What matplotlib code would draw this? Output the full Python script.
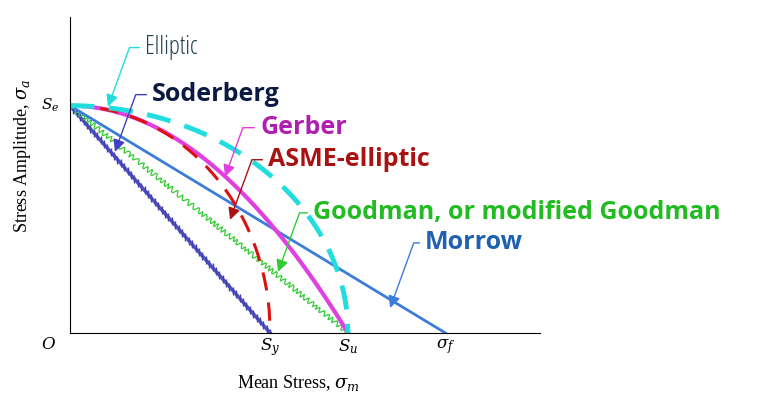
import numpy as np
import matplotlib
matplotlib.use("Agg")
import matplotlib.pyplot as plt

# key strengths (normalized, Su = 1)
Se = 1.0
Sy = 0.72
Su = 1.0
sf = 1.35
tick_pos = [Sy, Su, sf]
tick_labels = [r'$S_y$', r'$S_u$', r'$\sigma_f$']

fig = plt.figure(figsize=(7.68, 4.01), dpi=100)
ax = fig.add_axes([0.0911, 0.1696, 0.612, 0.788])
ax.set_xlim(0, 1.69)
ax.set_ylim(0, 1.39)
for s in ['top', 'right']:
    ax.spines[s].set_visible(False)
ax.set_xticks([]); ax.set_yticks([])

x = np.linspace(0, 1, 200)
# Soderberg
ax.plot([0, Sy], [Se, 0], color='#5050c0', lw=2.5)
xs = np.linspace(0, Sy, 60)
ax.plot(xs, Se * (1 - xs / Sy), ls='none', marker='|', ms=6, mew=1, color='#4040b0')
# Goodman (wavy)
l, = ax.plot([0, Su], [Se, 0], color='#33cc33', lw=0.9)
l.set_sketch_params(scale=2.5, length=6, randomness=2)
# Morrow
ax.plot([0, sf], [Se, 0], color='#3b7dd8', lw=2)
# Gerber
xg = Su * x
ax.plot(xg, Se * (1 - (xg / Su) ** 2), color='#e040e0', lw=3)
# ASME-elliptic
xa = Sy * x
ya = Se * np.sqrt(np.clip(1 - (xa / Sy) ** 2, 0, 1))
ax.plot(xa, ya, color='#dd1111', lw=2.2, dashes=(6, 4))
# Elliptic
xe = Su * x
ye = Se * np.sqrt(np.clip(1 - (xe / Su) ** 2, 0, 1))
ax.plot(xe, ye, color='#22dddd', lw=3.5, dashes=(5, 3))

def P(px, py):
    return ((px - 70) / 278, (333 - py) / 227)

ann = [
    ('Elliptic', (145, 48), (108, 107), '#22dddd', '#204050', 'normal'),
    ('Soderberg', (152, 95), (115, 152), '#4040c0', '#0a1a40', 'bold'),
    ('Gerber', (260, 128), (225, 177), '#e040e0', '#b020b0', 'bold'),
    ('ASME-elliptic', (268, 160), (230, 220), '#aa1111', '#aa1111', 'bold'),
    ('Goodman, or modified Goodman', (313, 213), (278, 272), '#33cc33', '#22bb22', 'bold'),
    ('Morrow', (425, 243), (390, 308), '#3b7dd8', '#2060b0', 'bold'),
]
for txt, tp, ap, ac, tc, w in ann:
    ax.annotate(txt, xy=P(*ap), xytext=P(*tp), color=tc, fontsize=18,
                fontweight=w, family='Open Sans', va='center', ha='left',
                fontstretch='condensed', annotation_clip=False,
                arrowprops=dict(arrowstyle='-|>', color=ac, lw=1,
                                connectionstyle='angle,angleA=0,angleB=70,rad=0',
                                shrinkA=2, shrinkB=0))

plt.rcParams['mathtext.fontset'] = 'dejavuserif'
for p, lab in zip(tick_pos, tick_labels):
    ax.text(p, -0.06, lab, ha='center', va='center', fontsize=12)
ax.text(-0.04, Se, r'$S_e$', ha='right', va='center', fontsize=11)
ax.text(-0.05, -0.05, r'$O$', ha='right', va='center', fontsize=12)
ax.text(0.82, -0.22, r'Mean Stress, $\sigma_m$', ha='center', va='center', fontsize=13,
        family='Liberation Serif')
ax.text(-0.17, 0.78, r'Stress Amplitude, $\sigma_a$', ha='center', va='center',
        fontsize=13, rotation=90, family='Liberation Serif')

fig.savefig('out.png', dpi=100)
